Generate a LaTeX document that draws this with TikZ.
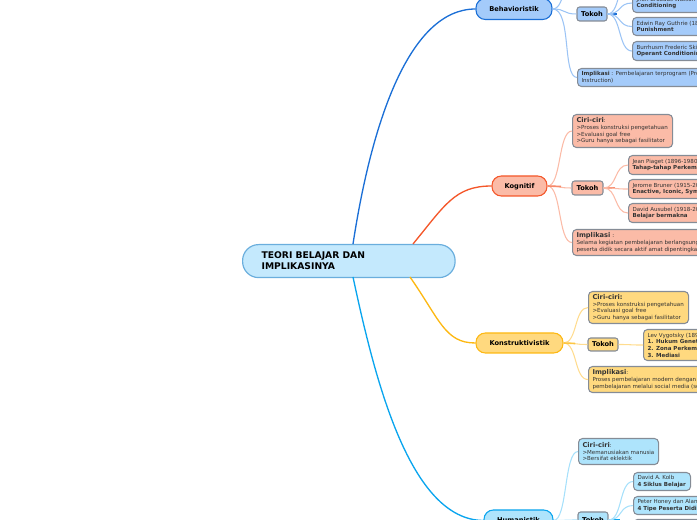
\documentclass[tikz,border=0pt]{standalone}
\usepackage{fontspec}
\setmainfont{DejaVu Sans}
\newcommand{\smalltxt}{\fontsize{4.15pt}{5pt}\selectfont}
\newcommand{\headtxt}{\fontsize{5pt}{5.4pt}\selectfont\bfseries}
\definecolor{bluefill}{HTML}{A4CBFA}\definecolor{blueline}{HTML}{1B6FD6}\definecolor{bluesoft}{HTML}{9CC4F5}
\definecolor{redfill}{HTML}{FBBBA7}\definecolor{redline}{HTML}{F4572A}\definecolor{redsoft}{HTML}{FBBBA7}
\definecolor{yelfill}{HTML}{FFD97F}\definecolor{yelline}{HTML}{FDB813}\definecolor{yelsoft}{HTML}{FFDC8F}
\definecolor{cyanfill}{HTML}{AEE4FC}\definecolor{cyanline}{HTML}{0AA5EE}\definecolor{cyansoft}{HTML}{A6E0FB}
\definecolor{rootfill}{HTML}{C4E9FD}\definecolor{rootline}{HTML}{6AAEDD}\definecolor{kidline}{HTML}{858C96}
\tikzset{
  x=0.75pt,y=-0.75pt,
  bx/.style 2 args={anchor=north west,minimum width=#1*0.75pt,minimum height=#2*0.75pt,text width=#1*0.75pt-8*0.75pt,inner xsep=4*0.75pt,inner ysep=0pt,align=none,font=\smalltxt,text=black!80,
    execute at begin node={\parindent=0pt\rightskip=-60pt plus 1fil\hyphenpenalty=10000\relax}},
  kid/.style={draw=kidline,line width=0.8pt,rounded corners=3pt},
  tok/.style={draw=kidline,line width=0.8pt,rounded corners=2pt,anchor=center,inner sep=0pt,font=\headtxt,align=center,text=black,text height=3.6pt,text depth=0.4pt},
  mainb/.style={draw,line width=0.8pt,rounded corners=7pt,anchor=center,inner sep=0pt,font=\headtxt,align=center,text=black,text height=3.6pt,text depth=0.4pt},
  link/.style={line width=0.8pt},
  trunk/.style={line width=1.2pt},
}
\newcommand{\lnk}[4][]{\draw[link,#1,#4] (#2) .. controls +(14,0) and +(-14,0) .. (#3);}
\begin{document}
\begin{tikzpicture}
\useasboundingbox (0,0) rectangle (697,520);
\clip (0,0) rectangle (697,520);
% root
\node[draw=rootline,fill=rootfill,line width=0.9pt,rounded corners=12pt,minimum width=212.5*0.75pt,minimum height=33*0.75pt,anchor=north west,inner sep=0pt,text width=174.5*0.75pt,align=left,inner xsep=19*0.75pt,font=\fontsize{6.9pt}{8.2pt}\selectfont\bfseries,text=black] (root) at (242,244) {TEORI BELAJAR DAN\\IMPLIKASINYA};
\coordinate (rb) at (353,244);\coordinate (rr) at (413,244);\coordinate (ry) at (410,277);\coordinate (rc) at (353,277);
% main nodes
\node[mainb,draw=blueline,fill=bluefill,minimum width=76*0.75pt,minimum height=21*0.75pt] (beh) at (514,9) {Behavioristik};
\node[mainb,draw=redline,fill=redfill,minimum width=55*0.75pt,minimum height=20*0.75pt] (kog) at (519.5,186) {Kognitif};
\node[mainb,draw=yelline,fill=yelfill,minimum width=87*0.75pt,minimum height=20*0.75pt] (kon) at (519.5,343) {Konstruktivistik};
\node[mainb,draw=cyanline,fill=cyanfill,minimum width=69*0.75pt,minimum height=21*0.75pt] (hum) at (518.5,520.5) {Humanistik};
% root links
\draw[blueline,line width=1pt] (rb) .. controls (372,120) and (410,9) .. (beh.west);
\draw[redline,line width=1pt] (rr) .. controls (445,205) and (455,186) .. (kog.west);
\draw[yelline,line width=1pt] (ry) .. controls (440,320) and (445,343) .. (kon.west);
\draw[cyanline,line width=1pt] (rc) .. controls (375,380) and (410,520) .. (hum.west);
% behavioristik
\coordinate (bciri) at (577,-32);
\node[tok,fill=bluefill,minimum width=30*0.75pt,minimum height=14*0.75pt] (btok) at (592,14) {Tokoh};
\node[kid,bx={110}{19},fill=bluefill] (b1) at (632,-7) {Jhon Broadus Watson (1878-1958)\\\textbf{Conditioning}};
\node[kid,bx={110}{18},fill=bluefill] (b2) at (632,17) {Edwin Ray Guthrie (1886-1959)\\\textbf{Punishment}};
\node[kid,bx={110}{19},fill=bluefill] (b3) at (632,41) {Burrhusm Frederic Skinner (1904-1990)\\\textbf{Operant Conditioning}};
\node[kid,bx={160}{18},fill=bluefill] (bimp) at (577,68) {\textbf{Implikasi} : Pembelajaran terprogram (Programmed\\Instruction)};
\coordinate (bpav) at (632,-30);
\lnk{beh.east}{bciri}{bluesoft}
\lnk{beh.east}{btok.west}{bluesoft}
\draw[link,bluesoft] (beh.east) .. controls (572,9) and (562,77) .. (bimp.west);
\draw[trunk,blueline] (btok.east) -- (617,14);
\lnk{btok.east}{b1.west}{bluesoft}
\lnk{btok.east}{bpav}{bluesoft}
\lnk{btok.east}{b2.west}{bluesoft}
\lnk{btok.east}{b3.west}{bluesoft}
% kognitif
\node[kid,bx={100}{33},fill=redfill] (kc) at (572,114) {{\headtxt Ciri-ciri}:\\>Proses konstruksi pengetahuan\\>Evaluasi goal free\\>Guru hanya sebagai fasilitator};
\node[tok,fill=redfill,minimum width=31*0.75pt,minimum height=14*0.75pt] (ktok) at (587.5,188) {Tokoh};
\node[kid,bx={110}{19},fill=redfill] (k1) at (628,155) {Jean Piaget (1896-1980)\\\textbf{Tahap-tahap Perkembangan}};
\node[kid,bx={110}{19},fill=redfill] (k2) at (628,179) {Jerome Bruner (1915-2016)\\\textbf{Enactive, Iconic, Symbolic}};
\node[kid,bx={110}{19},fill=redfill] (k3) at (628,203) {David Ausubel (1918-2008)\\\textbf{Belajar bermakna}};
\node[kid,bx={170}{26},fill=redfill] (kimp) at (572,229) {{\headtxt Implikasi} :\\Selama kegiatan pembelajaran berlangsung,\\peserta didik secara aktif amat dipentingkan};
\lnk{kog.east}{kc.west}{redsoft}
\lnk{kog.east}{ktok.west}{redsoft}
\lnk{kog.east}{kimp.west}{redsoft}
\draw[trunk,redline!70] (kog.east) -- (561,186.5);
\draw[trunk,redline!70] (ktok.east) -- (615,188);
\lnk{ktok.east}{k1.west}{redsoft}
\lnk{ktok.east}{k2.west}{redsoft}
\lnk{ktok.east}{k3.west}{redsoft}
% konstruktivistik
\node[kid,bx={100}{32},fill=yelfill] (yc) at (588,291) {{\headtxt Ciri-ciri:}\\>Proses konstruksi pengetahuan\\>Evaluasi goal free\\>Guru hanya sebagai fasilitator};
\node[tok,fill=yelfill,minimum width=30*0.75pt,minimum height=13*0.75pt] (ytok) at (603,344.5) {Tokoh};
\node[kid,bx={110}{31},fill=yelfill] (y1) at (643,329) {Lev Vygotsky (1896-1934)\\\textbf{1. Hukum Genetik}\\\textbf{2. Zona Perkembangan}\\\textbf{3. Mediasi}};
\node[kid,bx={170}{26},fill=yelfill] (yimp) at (588,366) {{\headtxt Implikasi}:\\Proses pembelajaran modern dengan\\pembelajaran melalui social media (sosmed)};
\lnk{kon.east}{yc.west}{yelsoft}
\lnk{kon.east}{ytok.west}{yelsoft}
\lnk{kon.east}{yimp.west}{yelsoft}
\draw[trunk,yelline!80] (kon.east) -- (575,343.5);
\lnk{ytok.east}{y1.west}{yelsoft}
% humanistik
\node[kid,bx={80}{26},fill=cyanfill] (hc) at (578,438) {{\headtxt Ciri-ciri}:\\>Memanusiakan manusia\\>Bersifat eklektik};
\node[tok,fill=cyanfill,minimum width=30*0.75pt,minimum height=16*0.75pt] (htok) at (593,520) {Tokoh};
\node[kid,bx={57}{18},fill=cyanfill] (h1) at (633,472) {David A. Kolb\\\textbf{4 Siklus Belajar}};
\node[kid,bx={110}{18},fill=cyanfill] (h2) at (633,496) {Peter Honey dan Alan Mumford\\\textbf{4 Tipe Peserta Didik}};
\node[kid,bx={110}{18},fill=cyanfill] (h3) at (633,519) {};
\lnk{hum.east}{hc.west}{cyansoft}
\lnk{hum.east}{htok.west}{cyansoft}
\draw[trunk,cyanline] (htok.east) -- (620,520);
\lnk{htok.east}{h1.west}{cyansoft}
\lnk{htok.east}{h2.west}{cyansoft}
\lnk{htok.east}{h3.west}{cyansoft}
\end{tikzpicture}
\end{document}
